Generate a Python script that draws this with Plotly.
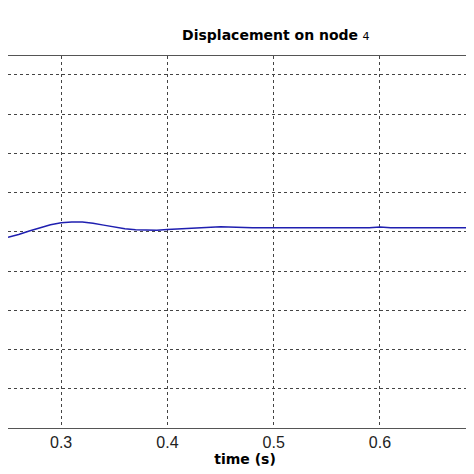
import plotly.graph_objects as go

# (y in grid units, labels cropped in reference)
time_s = [0.25, 0.26, 0.27, 0.28, 0.29, 0.30, 0.31, 0.32, 0.33, 0.34, 0.35, 0.36, 0.37, 0.38,
          0.39, 0.40, 0.42, 0.45, 0.48, 0.50, 0.55, 0.59, 0.60, 0.61, 0.65, 0.70]
disp = [4.86, 4.93, 5.02, 5.10, 5.18, 5.23, 5.25, 5.25, 5.22, 5.17, 5.12, 5.08, 5.05, 5.04,
        5.04, 5.06, 5.09, 5.13, 5.10, 5.10, 5.10, 5.10, 5.12, 5.10, 5.10, 5.10]
x_ticks = [0.3, 0.4, 0.5, 0.6, 0.7]
y_ticks = list(range(0, 10))

fig = go.Figure()
fig.add_trace(go.Scatter(x=time_s, y=disp, mode='lines', line=dict(color='#1f1fb0', width=1.5),
                         showlegend=False))

grid = dict(showgrid=True, gridcolor='#444', griddash='dot', gridwidth=1, automargin=False,
            showline=True, linecolor='#555', linewidth=1, mirror=True, zeroline=False)

fig.update_layout(
    width=474, height=474,
    margin=dict(l=0, r=0, t=48, b=54, pad=0),
    plot_bgcolor='white', paper_bgcolor='white',
    title=dict(text='<b>Displacement on node</b> <span style="font-size:11px">4</span>',
               x=0.565, xanchor='center', y=0.943, yanchor='middle',
               font=dict(family='DejaVu Sans', size=14, color='black')),
    xaxis=dict(range=[0.25, 0.696], tickvals=x_ticks, ticktext=['0.3', '0.4', '0.5', '0.6', '0.7'],
               tickfont=dict(family='Liberation Sans', size=16, color='#222'),
               title=dict(text='<b>time (s)</b>', standoff=2,
                          font=dict(family='DejaVu Sans', size=14, color='black')),
               ticks='', **grid),
    yaxis=dict(range=[0, 9.48], tickvals=y_ticks, showticklabels=False, ticks='', **grid),
)

fig.write_html("out.html")
